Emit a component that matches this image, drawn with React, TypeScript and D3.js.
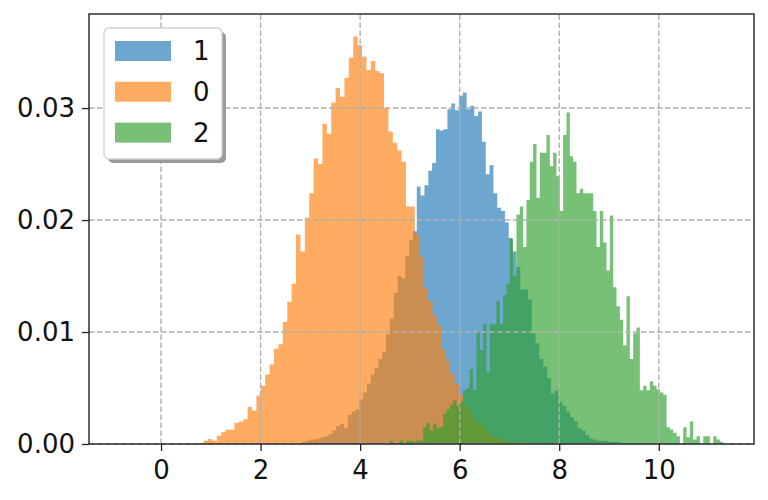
import React, { useEffect, useRef } from 'react';
import * as d3 from 'd3';

// histogram densities, one value per bin
const orangeStart = 0.502;
const orangeWidth = 0.0884;
const orangeDensity = [
  0.0001, 0.0001, 0.0001, 0.0001, 0.0003, 0.00044, 0.0003, 0.00074, 0.00104, 0.00128,
  0.00128, 0.0019, 0.002, 0.0022, 0.0033, 0.003, 0.0043, 0.0052, 0.0062, 0.0071,
  0.0085, 0.0089, 0.0109, 0.0127, 0.0143, 0.0187, 0.0172, 0.0202, 0.0224, 0.0255,
  0.025, 0.0286, 0.0277, 0.0305, 0.0318, 0.031, 0.0327, 0.0345, 0.0364, 0.0356,
  0.0346, 0.0334, 0.0342, 0.0333, 0.0331, 0.03, 0.0279, 0.0269, 0.0262, 0.0252,
  0.0212, 0.0212, 0.0187, 0.0167, 0.0139, 0.0128, 0.0115, 0.0106, 0.0084, 0.0075,
  0.0063, 0.0054, 0.0044, 0.0035, 0.003, 0.0024, 0.0018, 0.0017, 0.0012, 0.0008,
  0.00065, 0.0005, 0.00036, 0.0002, 0.0002, 0.0001, 0.0001, 0.0001,
];

const blueStart = 2.751;
const blueWidth = 0.077;
const blueDensity = [
  0.0001, 0.0002, 0.0003, 0.0004, 0.0004, 0.0005, 0.0006, 0.0007, 0.0009, 0.0012,
  0.0016, 0.0018, 0.0014, 0.0026, 0.0029, 0.0031, 0.004, 0.0046, 0.0054, 0.0062,
  0.0068, 0.0076, 0.0082, 0.0098, 0.0112, 0.0135, 0.015, 0.0148, 0.0168, 0.0182,
  0.019, 0.023, 0.0222, 0.0231, 0.0244, 0.0251, 0.0281, 0.028, 0.0281, 0.0299,
  0.0304, 0.0298, 0.0311, 0.0314, 0.0299, 0.0302, 0.0293, 0.0297, 0.027, 0.0241,
  0.0249, 0.0224, 0.0211, 0.0208, 0.0198, 0.0184, 0.0172, 0.0158, 0.0138, 0.0138,
  0.0129, 0.0099, 0.009, 0.0076, 0.0069, 0.0059, 0.0045, 0.0048, 0.0038, 0.0034,
  0.0029, 0.0024, 0.002, 0.0014, 0.0012, 0.0008, 0.0005, 0.0004, 0.0003, 0.0003,
  0.0003, 0.0002, 0.0002, 0.0002, 0.0001, 0.0001,
];

const greenStart = 4.595;
const greenWidth = 0.067;
const greenDensity = [
  0.0003, 0.0001, 0.0001, 0.0003, 0.0001, 0.0003, 0.0003, 0.0002, 0.0004, 0.0003,
  0.0015, 0.0019, 0.0012, 0.0018, 0.0014, 0.0015, 0.0027, 0.0031, 0.0035, 0.0039,
  0.0034, 0.0038, 0.0048, 0.005, 0.0067, 0.0048, 0.01, 0.0084, 0.0107, 0.0064,
  0.0107, 0.0107, 0.0128, 0.0107, 0.0133, 0.0143, 0.0183, 0.015, 0.0205, 0.0212,
  0.0176, 0.0218, 0.0252, 0.0268, 0.022, 0.026, 0.026, 0.0276, 0.0248, 0.026,
  0.0239, 0.0208, 0.0276, 0.0296, 0.0257, 0.0252, 0.0224, 0.0228, 0.0224, 0.0224,
  0.0224, 0.0208, 0.0176, 0.0208, 0.018, 0.0155, 0.0204, 0.014, 0.0123, 0.0111,
  0.0088, 0.0132, 0.0076, 0.0099, 0.0104, 0.0048, 0.0052, 0.0048, 0.0056, 0.0052,
  0.0049, 0.0046, 0.0044, 0.0015, 0.0013, 0.001, 0.0007, 0, 0.0015, 0.0006,
  0.002, 0.0004, 0.0007, 0, 0.0007, 0.0007, 0, 0.0007, 0.0004, 0.0002,
];

const xTicks = [0, 2, 4, 6, 8, 10];
const yTicks = [0, 0.01, 0.02, 0.03];

// drawing order is the legend order
const series = [
  { label: '1', color: '#1f77b4', start: blueStart, width: blueWidth, values: blueDensity },
  { label: '0', color: '#ff7f0e', start: orangeStart, width: orangeWidth, values: orangeDensity },
  { label: '2', color: '#2ca02c', start: greenStart, width: greenWidth, values: greenDensity },
];

const FONT = '"DejaVu Sans", sans-serif';

const App = () => {
  const svgRef = useRef<SVGSVGElement | null>(null);

  useEffect(() => {
    const width = 768;
    const height = 500;
    const margin = { top: 14, right: 14, bottom: 56, left: 89 };

    const svg = d3.select(svgRef.current).attr('width', width).attr('height', height);
    svg.selectAll('*').remove();

    const x = d3.scaleLinear().domain([-1.447, 11.913]).range([margin.left, width - margin.right]);
    const y = d3.scaleLinear().domain([0, 0.0384]).range([height - margin.bottom, margin.top]);

    svg.append('defs').append('clipPath').attr('id', 'plot-clip')
      .append('rect')
      .attr('x', margin.left).attr('y', margin.top)
      .attr('width', width - margin.left - margin.right)
      .attr('height', height - margin.top - margin.bottom);

    const area = d3.area<[number, number]>()
      .x(d => x(d[0]))
      .y0(y(0))
      .y1(d => y(d[1]))
      .curve(d3.curveStepAfter);

    const bars = svg.append('g').attr('clip-path', 'url(#plot-clip)');
    series.forEach(s => {
      const pts: [number, number][] = s.values.map((v, i) => [s.start + i * s.width, v]);
      pts.push([s.start + s.values.length * s.width, 0]);
      bars.append('path')
        .datum(pts)
        .attr('fill', s.color)
        .attr('fill-opacity', 0.65)
        .attr('d', area);
    });

    // grid sits above the bars, as in matplotlib
    const grid = svg.append('g')
      .attr('stroke', '#b0b0b0')
      .attr('stroke-width', 1.4)
      .attr('stroke-dasharray', '5.5,2.5');
    grid.selectAll('line.gx').data(xTicks).join('line')
      .attr('x1', d => x(d)).attr('x2', d => x(d))
      .attr('y1', y.range()[0]).attr('y2', y.range()[1]);
    grid.selectAll('line.gy').data(yTicks).join('line')
      .attr('y1', d => y(d)).attr('y2', d => y(d))
      .attr('x1', x.range()[0]).attr('x2', x.range()[1]);

    const xAxis = svg.append('g')
      .attr('transform', `translate(0,${height - margin.bottom})`)
      .call(d3.axisBottom(x).tickValues(xTicks).tickSize(7).tickPadding(9.5).tickFormat(d3.format('d')));
    const yAxis = svg.append('g')
      .attr('transform', `translate(${margin.left},0)`)
      .call(d3.axisLeft(y).tickValues(yTicks).tickSize(7).tickPadding(7).tickFormat(d3.format('.2f')));

    [xAxis, yAxis].forEach(a => {
      a.select('.domain').remove();
      a.selectAll('line').attr('stroke', '#222').attr('stroke-width', 1.3);
      a.selectAll('text')
        .attr('fill', '#111')
        .style('font-family', FONT)
        .style('font-size', '26px');
    });

    svg.append('rect')
      .attr('x', margin.left).attr('y', margin.top)
      .attr('width', width - margin.left - margin.right)
      .attr('height', height - margin.top - margin.bottom)
      .attr('fill', 'none')
      .attr('stroke', '#222')
      .attr('stroke-width', 1.4);

    // legend with shadow
    const lg = svg.append('g').attr('transform', 'translate(104,28)');
    const boxW = 118;
    const boxH = 131;
    lg.append('rect')
      .attr('x', 4).attr('y', 4).attr('width', boxW).attr('height', boxH)
      .attr('rx', 5).attr('fill', '#9a9a9a');
    lg.append('rect')
      .attr('width', boxW).attr('height', boxH)
      .attr('rx', 5).attr('fill', '#fff')
      .attr('stroke', '#d0d0d0').attr('stroke-width', 1.3);

    series.forEach((s, i) => {
      const cy = 23 + i * 40.8;
      lg.append('rect')
        .attr('x', 11).attr('y', cy - 10)
        .attr('width', 56).attr('height', 20)
        .attr('fill', s.color).attr('fill-opacity', 0.65);
      lg.append('text')
        .attr('x', 89).attr('y', cy).attr('dy', '0.36em')
        .attr('fill', '#111')
        .style('font-family', FONT)
        .style('font-size', '26px')
        .text(s.label);
    });
  }, []);

  return (
    <svg ref={svgRef} style={{ position: 'absolute', left: 0, top: 0, background: '#fff' }}></svg>
  );
};

export default App;
